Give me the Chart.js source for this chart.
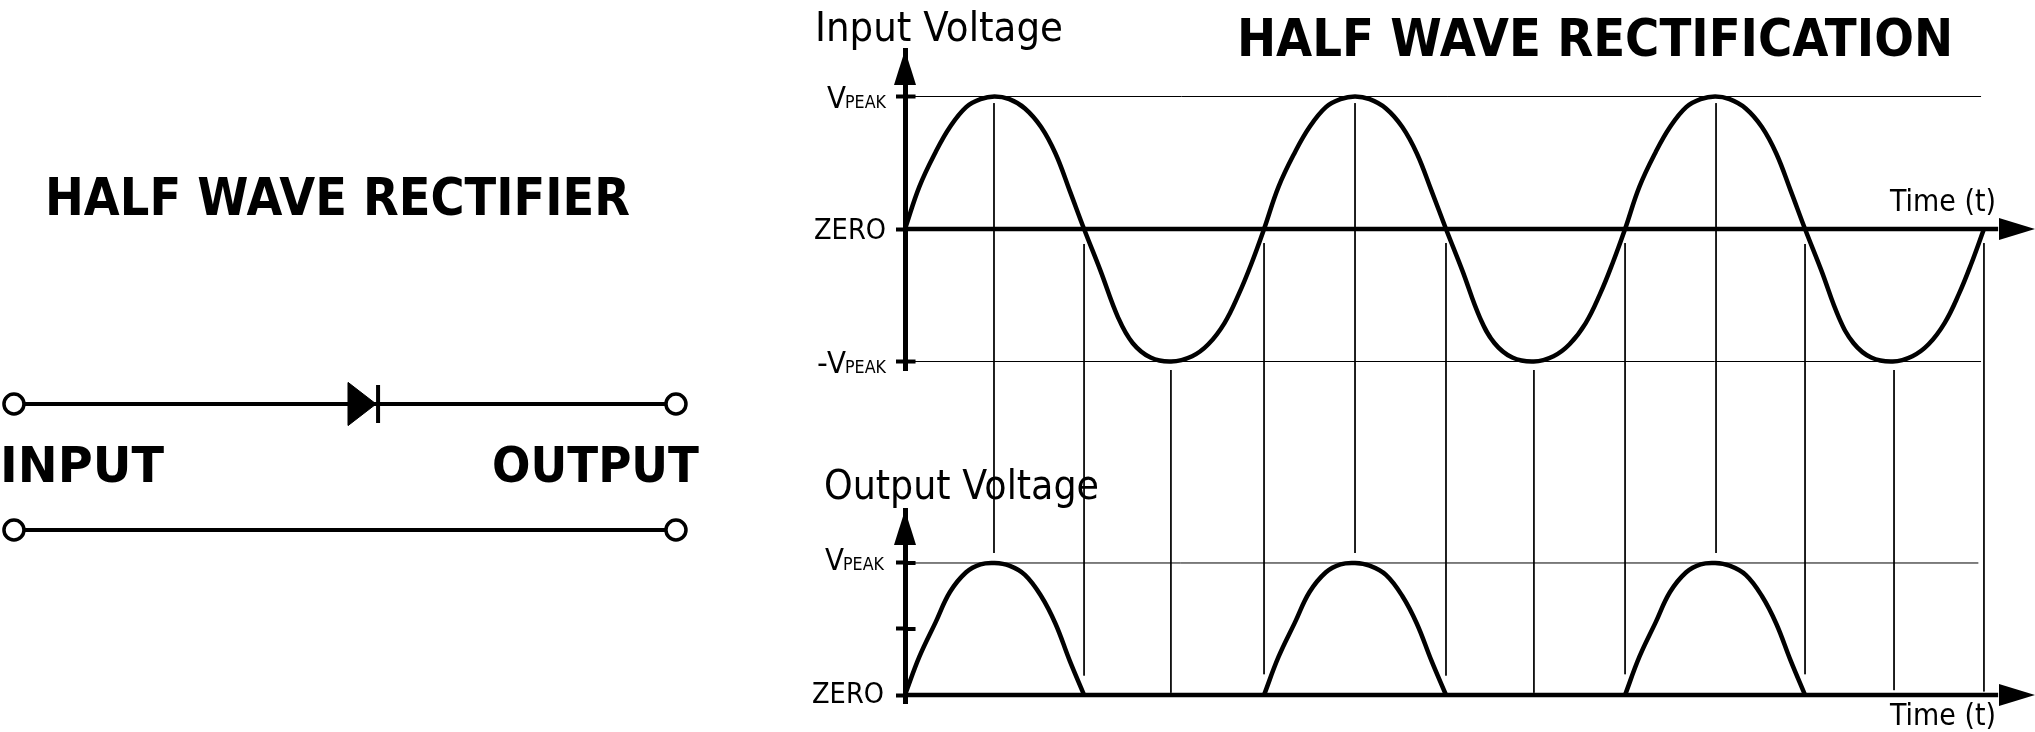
<!DOCTYPE html>
<html>
<head>
<meta charset="utf-8">
<title>Half Wave Rectification</title>
<script src="https://cdn.jsdelivr.net/npm/chart.js@4/dist/chart.umd.min.js"></script>
<style>
  html, body { margin: 0; background: #fff; overflow: hidden; }
  canvas { position: absolute; top: 0; }
  #circuit { left: 0; }
  #waves { left: 780px; }
</style>
</head>
<body>
<canvas id="circuit" width="720" height="732"></canvas>
<canvas id="waves" width="1255" height="732"></canvas>
<script>
// time is counted in half cycles, voltage as a fraction of VPEAK
const inputTime = [
  0, 0.08, 0.17, 0.25, 0.34, 0.42, 0.498, 0.58, 0.667, 0.757, 0.837, 0.916, 0.996,
  1.086, 1.186, 1.266, 1.366, 1.48, 1.597, 1.687, 1.777, 1.857, 1.927, 1.997,
  2.078, 2.169, 2.25, 2.341, 2.422, 2.503, 2.584, 2.675, 2.766, 2.847, 2.928, 3.009,
  3.099, 3.198, 3.278, 3.378, 3.497, 3.607, 3.696, 3.786, 3.866, 3.935, 4.005,
  4.085, 4.175, 4.255, 4.345, 4.425, 4.506, 4.586, 4.676, 4.766, 4.846, 4.926, 5.006,
  5.096, 5.195, 5.275, 5.374, 5.494, 5.603, 5.693, 5.782, 5.862, 5.931, 6.001
];
const inputVolts = [
  0, 0.32, 0.58, 0.77, 0.92, 0.98, 1, 0.98, 0.91, 0.77, 0.57, 0.29, 0,
  -0.31, -0.67, -0.86, -0.97, -1, -0.96, -0.87, -0.71, -0.49, -0.26, 0,
  0.32, 0.58, 0.77, 0.92, 0.98, 1, 0.98, 0.91, 0.77, 0.57, 0.29, 0,
  -0.31, -0.67, -0.86, -0.97, -1, -0.96, -0.87, -0.71, -0.49, -0.26, 0,
  0.32, 0.58, 0.77, 0.92, 0.98, 1, 0.98, 0.91, 0.77, 0.57, 0.29, 0,
  -0.31, -0.67, -0.86, -0.97, -1, -0.96, -0.87, -0.71, -0.49, -0.26, 0
];
// null marks where the output sits on the zero line between lobes
const outputTime = [
  0, 0.08, 0.17, 0.25, 0.34, 0.42, 0.498, 0.58, 0.667, 0.757, 0.837, 0.916, 0.996, 1.5,
  1.997, 2.078, 2.169, 2.25, 2.341, 2.422, 2.503, 2.584, 2.675, 2.766, 2.847, 2.928, 3.009, 3.5,
  4.005, 4.085, 4.175, 4.255, 4.345, 4.425, 4.506, 4.586, 4.676, 4.766, 4.846, 4.926, 5.006
];
const outputVolts = [
  0, 0.29, 0.55, 0.78, 0.93, 0.99, 1, 0.98, 0.91, 0.75, 0.54, 0.26, 0, null,
  0, 0.29, 0.55, 0.78, 0.93, 0.99, 1, 0.98, 0.91, 0.75, 0.54, 0.26, 0, null,
  0, 0.29, 0.55, 0.78, 0.93, 0.99, 1, 0.98, 0.91, 0.75, 0.54, 0.26, 0
];

const inputTicks = [1, 0, -1];
const inputTickLabels = ["VPEAK", "ZERO", "-VPEAK"];
const outputTicks = [1, 0.5, 0];
const outputTickLabels = ["VPEAK", "", "ZERO"];

// thin drop lines, their ends are read on the input voltage axis
const guideTimes = [0.495, 0.996, 1.479, 1.997, 2.503, 3.009, 3.498, 4.005, 4.511, 5.006, 5.501, 6.001];
const guideTops = [0.95, -0.113, -1.064, -0.106, 0.95, -0.106, -1.064, -0.106, 0.95, -0.113, -1.064, -0.106];
const guideBottoms = [-2.445, -3.37, -3.5, -3.36, -2.445, -3.37, -3.5, -3.36, -2.445, -3.36, -3.48, -3.49];

// circuit: position along the wire in percent, rail 1 is the top wire
const wireEnds = [0, 100];
const diodeAlong = [50.5, 50.5, 54.7, 50.5];
const diodeHeight = [1.17, 0.83, 1, 1.17];
const cathodeAlong = [55, 55];
const cathodeHeight = [1.15, 0.85];

const FONT = '"DejaVu Sans", sans-serif';

function points(xs, ys) {
    return xs.map((x, i) => ({ x: x, y: ys[i] }));
}

// fillText with a max width squeezes DejaVu down to the narrow face of the original
function label(ctx, text, x, baseline, size, width, weight) {
    ctx.save();
    ctx.fillStyle = "#000";
    ctx.textAlign = "left";
    ctx.textBaseline = "alphabetic";
    ctx.font = (weight || "normal") + " " + size + "px " + FONT;
    ctx.fillText(text, x, baseline, width);
    ctx.restore();
}

function triangle(ctx, a, b, c) {
    ctx.save();
    ctx.fillStyle = "#000";
    ctx.beginPath();
    ctx.moveTo(a[0], a[1]);
    ctx.lineTo(b[0], b[1]);
    ctx.lineTo(c[0], c[1]);
    ctx.closePath();
    ctx.fill();
    ctx.restore();
}

// VPEAK has a big V and a small PEAK, a tick label can't do that on its own
function tickLabels(ctx, scale, values, texts, right, peakShift, zeroShift) {
    values.forEach((v, i) => {
        const text = texts[i];
        const y = scale.getPixelForValue(v);
        if (text === "ZERO") {
            label(ctx, text, right - 72, y + zeroShift, 29, 72);
        } else if (text) {
            label(ctx, "PEAK", right - 41, y + peakShift, 17, 41);
            label(ctx, "V", right - 59, y + peakShift, 30, 19);
            if (text.charAt(0) === "-") label(ctx, "-", right - 69, y + peakShift, 30, 11);
        }
    });
}

const circuitText = {
    id: "circuitText",
    afterDraw(chart) {
        const ctx = chart.ctx;
        label(ctx, "HALF WAVE RECTIFIER", 45, 215, 51, 585, "bold");
        label(ctx, "INPUT", 0, 482, 50, 164, "bold");
        label(ctx, "OUTPUT", 492, 482, 50, 207, "bold");
    }
};

const waveText = {
    id: "waveText",
    afterDraw(chart) {
        const ctx = chart.ctx;
        const left = chart.scales.y.right;
        const end = chart.chartArea.right;
        const zeroIn = chart.scales.y.getPixelForValue(0);
        const zeroOut = chart.scales.y2.getPixelForValue(0);
        const topIn = chart.scales.y.top;
        const topOut = chart.scales.y2.top;

        // arrow heads on the ends of the axes
        triangle(ctx, [left, topIn], [left - 11, topIn + 35], [left + 11, topIn + 35]);
        triangle(ctx, [left, topOut], [left - 11, topOut + 35], [left + 11, topOut + 35]);
        triangle(ctx, [end, zeroIn], [end - 36, zeroIn - 11], [end - 36, zeroIn + 11]);
        triangle(ctx, [end, zeroOut], [end - 36, zeroOut - 11], [end - 36, zeroOut + 11]);

        tickLabels(ctx, chart.scales.y, inputTicks, inputTickLabels, 106, 11, 10);
        tickLabels(ctx, chart.scales.y2, outputTicks, outputTickLabels, 104, 7, 8);

        label(ctx, "Input Voltage", 35, 41, 41, 248);
        label(ctx, "Output Voltage", 44, 499, 41, 275);
        label(ctx, "HALF WAVE RECTIFICATION", 457, 56, 51, 716, "bold");
        label(ctx, "Time (t)", 1110, 211, 30, 106);
        label(ctx, "Time (t)", 1110, 725, 30, 106);
    }
};

new Chart(document.getElementById("circuit"), {
    type: "scatter",
    data: {
        datasets: [
            {
                data: points(wireEnds, [1, 1]).concat(points(wireEnds, [0, 0])),
                showLine: false,
                pointStyle: "circle",
                pointRadius: 10,
                pointBackgroundColor: "#fff",
                pointBorderColor: "#000",
                pointBorderWidth: 3.5
            },
            {
                data: points(wireEnds, [1, 1]),
                showLine: true, borderColor: "#000", borderWidth: 4, pointRadius: 0
            },
            {
                data: points(wireEnds, [0, 0]),
                showLine: true, borderColor: "#000", borderWidth: 4, pointRadius: 0
            },
            {
                data: points(diodeAlong, diodeHeight),
                showLine: true, fill: "shape", borderColor: "#000", backgroundColor: "#000",
                borderWidth: 1, pointRadius: 0
            },
            {
                data: points(cathodeAlong, cathodeHeight),
                showLine: true, borderColor: "#000", borderWidth: 4, pointRadius: 0
            }
        ]
    },
    options: {
        responsive: false,
        animation: false,
        events: [],
        layout: { autoPadding: false },
        plugins: { legend: { display: false }, tooltip: { enabled: false } },
        scales: {
            x: { display: false, min: -2.11, max: 106.65 },
            y: { display: false, min: -1.603, max: 4.206 }
        }
    },
    plugins: [circuitText]
});

function thinLine(data, yAxisID) {
    return { data: data, yAxisID: yAxisID, showLine: true, borderColor: "#000", borderWidth: 1, pointRadius: 0, clip: false };
}

function axisOptions(min, max, ticks, stackWeight) {
    return {
        type: "linear",
        position: "left",
        stack: "panels",
        stackWeight: stackWeight,
        min: min,
        max: max,
        afterBuildTicks: scale => { scale.ticks = ticks.map(v => ({ value: v })); },
        afterFit: scale => { scale.width = 125; },
        ticks: { display: false },
        border: { display: true, color: "#000", width: 5 },
        grid: {
            drawOnChartArea: false,
            drawTicks: true,
            tickLength: 9,
            tickWidth: 4,
            tickColor: "#000"
        }
    };
}

new Chart(document.getElementById("waves"), {
    type: "scatter",
    data: {
        datasets: [
            {
                data: points(inputTime, inputVolts), yAxisID: "y",
                showLine: true, borderColor: "#000", borderWidth: 4.5, pointRadius: 0,
                tension: 0.4, clip: false
            },
            {
                data: points(outputTime, outputVolts), yAxisID: "y2",
                showLine: true, borderColor: "#000", borderWidth: 4.5, pointRadius: 0,
                tension: 0.4, clip: false
            },
            { data: points([0, 6.08], [0, 0]), yAxisID: "y", showLine: true, borderColor: "#000", borderWidth: 4.5, pointRadius: 0 },
            { data: points([0, 6.08], [0, 0]), yAxisID: "y2", showLine: true, borderColor: "#000", borderWidth: 4.5, pointRadius: 0 },
            // inner half of the tick marks
            {
                data: points([0.028, 0.028], [1, -1]), yAxisID: "y", showLine: false,
                pointStyle: "line", pointRadius: 5.5, pointBorderColor: "#000", pointBorderWidth: 4
            },
            {
                data: points([0.028, 0.028], [1, 0.5]), yAxisID: "y2", showLine: false,
                pointStyle: "line", pointRadius: 5.5, pointBorderColor: "#000", pointBorderWidth: 4
            },
            thinLine(points([0.055, 5.985], [1, 1]), "y"),
            thinLine(points([0.055, 5.985], [-1, -1]), "y"),
            thinLine(points([0.055, 5.97], [1, 1]), "y2")
        ].concat(guideTimes.map((t, i) => thinLine(points([t, t], [guideTops[i], guideBottoms[i]]), "y")))
    },
    options: {
        responsive: false,
        animation: false,
        events: [],
        layout: { autoPadding: false, padding: { top: 50, bottom: 29, left: 0, right: 0 } },
        plugins: { legend: { display: false }, tooltip: { enabled: false } },
        scales: {
            x: { display: false, type: "linear", min: 0, max: 6.285 },
            // the layout stacks these from the last listed at the top
            y2: axisOptions(-0.0606, 1.4015, outputTicks, 193),
            gap: {
                type: "linear",
                position: "left",
                stack: "panels",
                stackWeight: 140,
                afterFit: scale => { scale.width = 125; },
                ticks: { display: false },
                border: { display: false },
                grid: { display: false }
            },
            y: axisOptions(-1.064, 1.351, inputTicks, 320)
        }
    },
    plugins: [waveText]
});
</script>
</body>
</html>
